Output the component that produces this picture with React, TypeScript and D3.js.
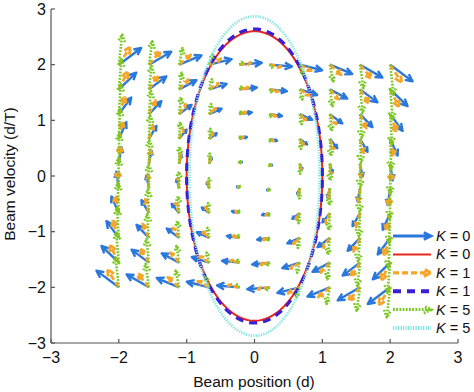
import React from "react";
import * as d3 from "d3";

// Grid of beam positions / velocities where the field is sampled
const gridX = [-2, -1.556, -1.111, -0.667, -0.222, 0.222, 0.667, 1.111, 1.556, 2];
const gridV = [-2, -1.556, -1.111, -0.667, -0.222, 0.222, 0.667, 1.111, 1.556, 2];

// Series: K values, quiver scale factors read from arrows (dx per unit v, dv per unit -x)
const seriesK = ["0", "1", "5"];
const quiverDx = [0.165, 0.085, 0.025];
const quiverDv = [0.15, 0.16, 0.27];

// Ellipse (phase-space boundary) semi-axes for each K
const ellipseRx = [1.0, 1.0, 0.96];
const ellipseRv = [2.6, 2.64, 2.87];

const xTicks = [-3, -2, -1, 0, 1, 2, 3];
const yTicks = [-3, -2, -1, 0, 1, 2, 3];

const arrowColors = ["#2a78dc", "#f5a52a", "#78c81e"];
const arrowDash = ["none", "6 3", "1.8 1.4"];
const arrowWidth = [2.4, 2.8, 2.6];
const ellColors = ["#e8251c", "#3a1fd6", "#7fe3e0"];
const ellDash = ["none", "8 6", "1.2 1.3"];
const ellWidth = [2, 3.2, 2.8];

const W = 474, H = 392;
const FONT = "Liberation Sans, Arial, sans-serif";

function arrowPath(x0: number, y0: number, x1: number, y1: number) {
  const dx = x1 - x0, dy = y1 - y0;
  const len = Math.hypot(dx, dy);
  if (len < 0.01) return "";
  const hl = Math.min(8, Math.max(2, len * 0.38));
  const ang = Math.atan2(dy, dx);
  const a = 0.45;
  const hx1 = x1 - hl * Math.cos(ang - a), hy1 = y1 - hl * Math.sin(ang - a);
  const hx2 = x1 - hl * Math.cos(ang + a), hy2 = y1 - hl * Math.sin(ang + a);
  return `M${x0},${y0}L${x1},${y1}M${hx1},${hy1}L${x1},${y1}L${hx2},${hy2}`;
}

export default function App() {
  const x = d3.scaleLinear().domain([-3, 3]).range([51, 458]);
  const y = d3.scaleLinear().domain([-3, 3]).range([343, 9]);

  const angles = d3.range(0, 361, 2).map((d) => (d * Math.PI) / 180);
  const ellLine = (rx: number, rv: number) =>
    d3
      .line<number>()
      .x((t) => x(rx * Math.cos(t)))
      .y((t) => y(rv * Math.sin(t)))(angles) || "";

  const layers: React.ReactNode[] = [];
  seriesK.forEach((k, i) => {
    const paths: string[] = [];
    gridX.forEach((gx) =>
      gridV.forEach((gv) => {
        const x0 = x(gx), y0 = y(gv);
        const x1 = x(gx + quiverDx[i] * gv), y1 = y(gv - quiverDv[i] * gx);
        paths.push(arrowPath(x0, y0, x1, y1));
      })
    );
    layers.push(
      <path
        key={"q" + i}
        d={paths.join("")}
        fill="none"
        stroke={arrowColors[i]}
        strokeWidth={arrowWidth[i]}
        strokeDasharray={arrowDash[i]}
        strokeLinejoin="round"
      />
    );
    layers.push(
      <path
        key={"e" + i}
        d={ellLine(ellipseRx[i], ellipseRv[i])}
        fill="none"
        stroke={ellColors[i]}
        strokeWidth={ellWidth[i]}
        strokeDasharray={ellDash[i]}
      />
    );
  });

  const legendY0 = 236, legendDy = 18.4;
  const legendItems: React.ReactNode[] = [];
  seriesK.forEach((k, i) => {
    const ya = legendY0 + legendDy * (2 * i);
    const ye = legendY0 + legendDy * (2 * i + 1);
    legendItems.push(
      <g key={"la" + i}>
        <path
          d={arrowPath(393, ya, 431, ya)}
          fill="none"
          stroke={arrowColors[i]}
          strokeWidth={arrowWidth[i] + 0.4}
          strokeDasharray={arrowDash[i]}
        />
        <text x={436} y={ya + 5} fontSize={14.5} fontFamily={FONT} fill="#111">
          <tspan fontStyle="italic">K</tspan> = {k}
        </text>
      </g>
    );
    legendItems.push(
      <g key={"le" + i}>
        <line
          x1={393}
          x2={431}
          y1={ye}
          y2={ye}
          stroke={ellColors[i]}
          strokeWidth={i === 0 ? 2 : 4}
          strokeDasharray={ellDash[i]}
        />
        <text x={436} y={ye + 5} fontSize={14.5} fontFamily={FONT} fill="#111">
          <tspan fontStyle="italic">K</tspan> = {k}
        </text>
      </g>
    );
  });

  const axisColor = "#555";
  return (
    <div style={{ position: "absolute", left: 0, top: 0, width: W, height: H, overflow: "hidden", background: "#fff" }}>
      <svg width={W} height={H} viewBox={`0 0 ${W} ${H}`} style={{ display: "block" }}>
        <rect width={W} height={H} fill="#fff" />
        {layers}
        {/* axes */}
        <line x1={x(-3)} x2={x(3)} y1={y(-3)} y2={y(-3)} stroke={axisColor} strokeWidth={1.2} />
        <line x1={x(-3)} x2={x(-3)} y1={y(-3)} y2={y(3)} stroke={axisColor} strokeWidth={1.2} />
        {xTicks.map((t) => (
          <g key={"xt" + t}>
            <line x1={x(t)} x2={x(t)} y1={y(-3)} y2={y(-3) - 4} stroke={axisColor} strokeWidth={1.2} />
            <text x={x(t)} y={363} textAnchor="middle" fontSize={16} fontFamily={FONT} fill="#111">
              {t < 0 ? "\u2212" + Math.abs(t) : t}
            </text>
          </g>
        ))}
        {yTicks.map((t) => (
          <g key={"yt" + t}>
            <line x1={x(-3)} x2={x(-3) + 4} y1={y(t)} y2={y(t)} stroke={axisColor} strokeWidth={1.2} />
            <text x={46} y={y(t) + 5.5} textAnchor="end" fontSize={16} fontFamily={FONT} fill="#111">
              {t < 0 ? "\u2212" + Math.abs(t) : t}
            </text>
          </g>
        ))}
        <text x={254} y={387} textAnchor="middle" fontSize={15.5} fontFamily={FONT} fill="#111">
          Beam position (d)
        </text>
        <text
          transform={`translate(15,174) rotate(-90)`}
          textAnchor="middle"
          fontSize={15.5}
          fontFamily={FONT}
          fill="#111"
        >
          Beam velocity (d/T)
        </text>
        {legendItems}
      </svg>
    </div>
  );
}
